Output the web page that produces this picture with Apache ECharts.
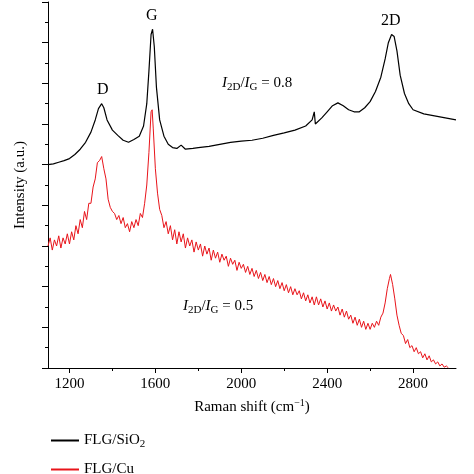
<!DOCTYPE html><html><head><meta charset="utf-8"><script src="https://cdn.jsdelivr.net/npm/echarts@6/dist/echarts.min.js"></script>
<style>html,body{margin:0;background:#fff}#c{width:474px;height:474px}</style></head><body><div id="c"></div><script>
const xLabels=[1200,1600,2000,2400,2800];
const xMinor=[1400,1800,2200,2600];
const blackX=[1100,1125,1150,1175,1200,1225,1250,1275,1300,1320,1335,1350,1360,1375,1400,1425,1450,1475,1500,1525,1545,1560,1570,1580,1587,1595,1605,1620,1640,1660,1680,1700,1720,1740,1775,1800,1850,1900,1950,2000,2050,2100,2150,2200,2250,2300,2330,2340,2345,2375,2400,2425,2450,2475,2500,2525,2550,2575,2600,2625,2650,2670,2685,2700,2712,2725,2740,2760,2780,2800,2850,2900,2950,3000];
const blackY=[5.0,5.02,5.06,5.1,5.15,5.25,5.38,5.55,5.8,6.1,6.38,6.5,6.4,6.1,5.85,5.72,5.6,5.55,5.62,5.7,5.95,6.5,7.3,8.2,8.33,7.9,6.9,6.1,5.7,5.5,5.42,5.4,5.48,5.38,5.4,5.42,5.45,5.5,5.55,5.58,5.6,5.65,5.72,5.78,5.85,5.95,6.1,6.3,6.0,6.15,6.3,6.45,6.52,6.45,6.35,6.3,6.3,6.4,6.55,6.8,7.15,7.6,8.0,8.2,8.15,7.8,7.2,6.75,6.5,6.35,6.25,6.2,6.15,6.1];
const redX=[1100,1110,1120,1130,1140,1150,1160,1170,1180,1190,1200,1210,1220,1230,1240,1250,1260,1270,1280,1290,1300,1310,1320,1330,1340,1350,1360,1370,1380,1390,1400,1410,1420,1430,1440,1450,1460,1470,1480,1490,1500,1510,1520,1530,1540,1550,1560,1570,1580,1585,1590,1600,1610,1620,1630,1640,1650,1660,1670,1680,1690,1700,1710,1720,1730,1740,1750,1760,1770,1780,1790,1800,1810,1820,1830,1840,1850,1860,1870,1880,1890,1900,1910,1920,1930,1940,1950,1960,1970,1980,1990,2000,2010,2020,2030,2040,2050,2060,2070,2080,2090,2100,2110,2120,2130,2140,2150,2160,2170,2180,2190,2200,2210,2220,2230,2240,2250,2260,2270,2280,2290,2300,2310,2320,2330,2340,2350,2360,2370,2380,2390,2400,2410,2420,2430,2440,2450,2460,2470,2480,2490,2500,2510,2520,2530,2540,2550,2560,2570,2580,2590,2600,2610,2620,2630,2640,2650,2660,2670,2680,2690,2695,2705,2715,2725,2735,2745,2755,2765,2775,2785,2795,2805,2815,2825,2835,2845,2855,2865,2875,2885,2895,2905,2915,2925,2935,2945,2955,2965,2975,2985,3000];
const redY=[3.0,3.2,2.9,3.15,3.0,3.25,2.95,3.2,3.05,3.3,3.05,3.35,3.15,3.5,3.3,3.65,3.45,3.85,3.65,4.05,4.05,4.45,4.65,5.05,5.1,5.2,4.9,4.65,4.15,3.95,3.85,3.8,3.65,3.75,3.55,3.7,3.45,3.55,3.35,3.6,3.45,3.65,3.5,3.8,3.7,4.05,4.5,5.3,6.3,6.35,5.9,4.9,4.3,3.9,3.75,3.45,3.6,3.3,3.5,3.15,3.4,3.05,3.35,3.1,3.3,2.95,3.2,3.0,3.15,2.85,3.1,2.9,3.05,2.75,3.0,2.8,2.95,2.65,2.9,2.7,2.85,2.6,2.8,2.65,2.75,2.5,2.7,2.55,2.65,2.4,2.6,2.45,2.55,2.35,2.5,2.3,2.45,2.25,2.4,2.2,2.35,2.15,2.3,2.1,2.25,2.05,2.2,2.0,2.15,1.95,2.1,1.9,2.05,1.85,2.0,1.8,1.95,1.8,1.9,1.7,1.85,1.65,1.8,1.6,1.75,1.55,1.75,1.55,1.7,1.5,1.65,1.45,1.6,1.4,1.55,1.4,1.5,1.3,1.45,1.25,1.4,1.2,1.3,1.1,1.25,1.05,1.2,1.0,1.15,0.95,1.1,0.95,1.1,1.0,1.15,1.05,1.25,1.35,1.6,1.95,2.2,2.3,2.05,1.7,1.3,1.05,0.85,0.8,0.6,0.7,0.5,0.55,0.4,0.5,0.35,0.4,0.25,0.35,0.2,0.3,0.15,0.2,0.1,0.15,0.05,0.1,0.02,0.05,0];
const F='"Liberation Serif","DejaVu Serif",serif';
const zip=(a,b)=>a.map((v,i)=>[v,b[i]]);
const rich={a:{fontFamily:F,fontSize:15,color:'#000'},i:{fontFamily:F,fontSize:15,fontStyle:'italic',color:'#000'},s:{fontFamily:F,fontSize:11,color:'#000',verticalAlign:'bottom',padding:[8,0,0,0]},u:{fontFamily:F,fontSize:10,color:'#000',padding:[0,0,8,0]}};
const c=echarts.init(document.getElementById('c'));
const lg=(n,top)=>({orient:'vertical',left:46,top,itemWidth:28,itemHeight:2,icon:'rect',data:[n],formatter:x=>x==='FLG/SiO2'?'{a|FLG/SiO}{s|2}':'{a|FLG/Cu}',textStyle:{rich}});
c.setOption({animation:false,
grid:{left:48,right:18,top:2,bottom:106},
xAxis:[{type:'value',min:1100,max:3000,name:'{a|Raman shift (cm}{u|−1}{a|)}',nameLocation:'middle',nameGap:30,nameTextStyle:{rich},
 axisLine:{lineStyle:{color:'#000'}},splitLine:{show:false},
 axisTick:{customValues:xLabels,length:5,lineStyle:{color:'#000'}},
 axisLabel:{customValues:xLabels,formatter:v=>String(v),fontFamily:F,fontSize:15,color:'#000',margin:9}},
 {type:'value',min:1100,max:3000,position:'bottom',axisLine:{show:false},splitLine:{show:false},axisLabel:{show:false},
 axisTick:{customValues:xMinor,length:3,lineStyle:{color:'#000'}}}],
yAxis:{type:'value',min:0,max:9,interval:1,name:'Intensity (a.u.)',nameLocation:'middle',nameGap:20,nameTextStyle:{fontFamily:F,fontSize:15,color:'#000'},
 axisLine:{show:true,lineStyle:{color:'#000'}},splitLine:{show:false},axisLabel:{show:false},
 axisTick:{show:true,length:6,lineStyle:{color:'#000'}},minorTick:{show:true,splitNumber:2,length:3,lineStyle:{color:'#000'}}},
legend:[lg('FLG/SiO2',428),lg('FLG/Cu',457)],
series:[{name:'FLG/SiO2',type:'line',data:zip(blackX,blackY),showSymbol:false,lineStyle:{color:'#000',width:1.2},itemStyle:{color:'#000'}},
 {name:'FLG/Cu',type:'line',data:zip(redX,redY),showSymbol:false,lineStyle:{color:'#e8141a',width:1},itemStyle:{color:'#e8141a'}}],
graphic:[
 {type:'text',left:97,top:82,style:{text:'D',font:'16px '+F,fill:'#000'}},
 {type:'text',left:146,top:8,style:{text:'G',font:'16px '+F,fill:'#000'}},
 {type:'text',left:381,top:13,style:{text:'2D',font:'16px '+F,fill:'#000'}},
 {type:'text',left:222,top:76,style:{text:'{i|I}{s|2D}{a|/}{i|I}{s|G}{a| = 0.8}',rich}},
 {type:'text',left:183,top:299,style:{text:'{i|I}{s|2D}{a|/}{i|I}{s|G}{a| = 0.5}',rich}}]
});
</script></body></html>
